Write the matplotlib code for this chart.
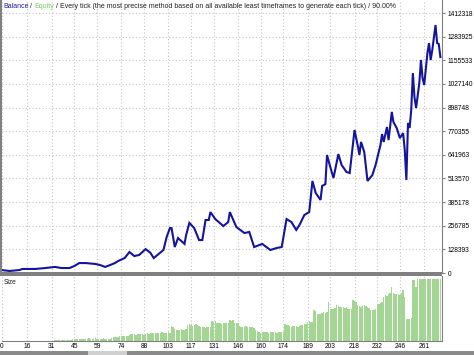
import matplotlib.pyplot as plt
from matplotlib.patches import Rectangle

# balance curve (trade number -> balance in thousands)
bal_trade = [0, 5, 11, 13, 21, 27, 33, 37, 42, 45, 48, 52, 58, 61, 64, 67, 70, 72, 76, 79,
             82, 85, 89, 92, 94, 97, 100, 102, 104, 105, 107, 109, 113, 114, 116, 119, 122, 124, 126, 128,
             129, 132, 137, 140, 141, 145, 150, 153, 156, 161, 166, 170, 173, 174, 176, 179, 182, 184, 187, 190,
             192, 194, 197, 198, 200, 201, 203, 205, 208, 210, 213, 215, 218, 220, 221, 222, 224, 226, 229, 231,
             234, 235, 236, 238, 239, 241, 242, 244, 246, 248, 249, 250, 251, 252, 253, 254, 255, 256, 258, 259,
             260, 261, 263, 264, 265, 266, 268, 269, 270, 271]
bal_k = [16, 11, 16, 22, 22, 27, 33, 27, 27, 38, 54, 54, 49, 43, 33, 43, 54, 65, 81, 114,
         92, 98, 130, 109, 81, 103, 125, 196, 244, 244, 141, 190, 158, 206, 272, 244, 179, 179, 288, 288,
         331, 293, 255, 277, 331, 250, 217, 223, 141, 158, 125, 136, 141, 190, 293, 277, 234, 261, 315, 331,
         500, 435, 397, 473, 483, 641, 576, 516, 646, 587, 549, 543, 777, 690, 641, 712, 657, 500, 532, 587,
         695, 755, 712, 793, 722, 875, 820, 788, 733, 760, 668, 505, 815, 788, 885, 1086, 956, 896, 1032, 1157,
         1059, 1021, 1195, 1249, 1157, 1211, 1347, 1249, 1244, 1173]

# lot size per trade (0..271)
sizes = [0.05, 0.05, 0.05, 0.05, 0.05, 0.05, 0.05, 0.05, 0.05, 0.05,
         0.05, 0.05, 0.05, 0.05, 0.05, 0.05, 0.05, 0.05, 0.05, 0.05,
         0.05, 0.05, 0.05, 0.05, 0.05, 0.05, 0.05, 0.05, 0.05, 0.05,
         0.05, 0.05, 0.05,
         0.1, 0.1, 0.1, 0.1, 0.1, 0.1, 0.1, 0.1, 0.1, 0.1, 0.1,
         0.2, 0.2, 0.2, 0.2, 0.2, 0.2, 0.2, 0.2, 0.2,
         0.25, 0.3, 0.25, 0.2, 0.25, 0.3, 0.25, 0.25, 0.2, 0.25, 0.3, 0.25, 0.25, 0.2, 0.25, 0.3,
         0.4, 0.4, 0.45, 0.4,
         0.5, 0.55, 0.5, 0.5, 0.55, 0.5, 0.6,
         0.7, 0.75, 0.7, 0.65, 0.7, 0.7, 0.75, 0.7, 0.65, 0.7,
         0.8, 0.75, 0.8, 0.85, 0.8, 0.8,
         0.85, 0.8, 0.85, 0.9, 0.85, 0.8, 0.85, 0.9, 0.85,
         1.5, 1.4,
         1.2, 1.15, 1.1, 1.15, 1.2, 1.15, 1.1, 1.2,
         1.6, 1.7, 1.6, 1.5, 1.6, 1.7, 1.6, 1.55,
         1.4, 1.45, 1.4, 1.35, 1.4, 1.45, 1.4,
         2.0, 1.95, 2.0,
         1.8, 1.85, 1.8, 1.75, 1.8, 1.85, 1.8, 1.8,
         2.1, 2.05, 2.1,
         1.8, 1.85, 1.8,
         1.5, 1.45, 1.4, 1.45, 1.5, 1.4, 1.45, 1.4, 1.45, 1.35,
         1.1, 1.05,
         0.9, 0.85, 0.9, 0.95, 0.9, 0.9, 0.85, 0.9, 0.9, 0.95, 0.9, 0.85, 0.9, 0.9, 0.95, 0.9,
         1.7, 1.65, 1.6,
         1.5, 1.45, 1.5, 1.55, 1.5, 1.45, 1.5, 1.6, 1.65, 1.7, 1.75,
         1.9, 2.0, 1.9, 1.95,
         3.1, 3.0,
         2.7, 2.75, 2.7, 2.8,
         2.9, 2.85, 2.9,
         3.9,
         3.2, 3.25, 3.2, 3.3,
         3.6, 3.55,
         3.4, 3.45, 3.4, 3.35, 3.4,
         3.2, 3.25, 3.2,
         4.1, 4.0, 3.9,
         3.6, 3.5, 3.45, 3.5, 3.6, 3.55, 3.4, 3.3,
         3.1, 3.15, 3.1, 3.2,
         3.7, 3.75, 3.8, 3.9,
         4.4, 4.6, 4.5, 4.7,
         4.8, 5.4, 4.8, 4.7,
         4.7, 4.75, 4.6, 4.8,
         5.1,
         4.4,
         2.2, 2.25, 2.2, 2.3,
         6.1, 6.1, 5.4,
         6.2, 6.2, 6.2, 6.2, 6.2, 6.2, 6.2, 6.2, 6.2, 6.2, 6.2, 6.2, 6.2, 6.2, 6.2]

x_ticks = [0, 16, 31, 45, 59, 74, 88, 103, 117, 131, 146, 160, 174, 189, 203, 218, 232, 246, 261]
y_ticks = [0, 128393, 256785, 385178, 513570, 641963, 770355, 898748, 1027140, 1155533, 1283925, 1412318]

plt.rcParams['font.family'] = ['Liberation Sans', 'DejaVu Sans']

W, H = 474, 355
fig = plt.figure(figsize=(W / 100, H / 100), dpi=100)


def box(x0, y0, x1, y1):
    # pixel box (top-left origin) -> figure fraction
    return [x0 / W, 1 - y1 / H, (x1 - x0) / W, (y1 - y0) / H]


grid_kw = dict(color="#c4c4c4", linestyle=(0, (1, 2)), linewidth=0.8)
fs = 4.8

ax = fig.add_axes(box(1.5, 0, 442, 273))
ax.plot(bal_trade, [v * 1000 for v in bal_k], color="#14149c", lw=1.5, solid_joinstyle="miter")
ax.set_xlim(0, 272)
ax.set_ylim(0, 1483000)
ax.set_xticks(x_ticks)
ax.set_yticks(y_ticks)
ax.set_yticklabels([str(v) for v in y_ticks])
ax.yaxis.tick_right()
ax.tick_params(axis="y", length=2, pad=2, labelsize=fs, color="#808080")
ax.tick_params(axis="x", length=0, labelbottom=False)
ax.grid(True, **grid_kw)
for s in ["top", "left", "bottom"]:
    ax.spines[s].set_visible(False)
ax.spines["right"].set_color("#808080")

ax2 = fig.add_axes(box(1.5, 276, 442, 341))
ax2.bar(range(len(sizes)), sizes, width=0.85, color="#a3d693", lw=0)
ax2.set_xlim(0, 272)
ax2.set_ylim(0, 6.5)
ax2.set_xticks(x_ticks)
ax2.set_xticklabels([str(v) for v in x_ticks])
ax2.set_yticks([])
ax2.tick_params(axis="x", length=0, pad=1.5, labelsize=fs)
ax2.grid(True, axis="x", **grid_kw)
for s in ["top", "left"]:
    ax2.spines[s].set_visible(False)
ax2.spines["right"].set_color("#808080")
ax2.spines["bottom"].set_color("#808080")

# separator, left border and bottom strip
fig.add_artist(Rectangle((0, 1 - 275.5 / H), 442 / W, 3.5 / H, transform=fig.transFigure,
                         color="#808080", lw=0))
fig.add_artist(Rectangle((0, 1 - 273 / H), 1.5 / W, 273 / H, transform=fig.transFigure,
                         color="#808080", lw=0))
fig.add_artist(Rectangle((0, 0), 1, 4 / H, transform=fig.transFigure, color="#8a8a8a", lw=0))
fig.add_artist(Rectangle((88 / W, 0), 39 / W, 4 / H, transform=fig.transFigure, color="#d0d0d0", lw=0))

# header text
hs = 5.0
t1 = fig.text(3 / W, 1 - 6 / H, "Balance", color="#1c1c9c", fontsize=hs, va="center")
t2 = ax.annotate(" / ", xy=(1, 0), xycoords=t1, va="bottom", fontsize=hs, color="#202020")
t3 = ax.annotate("Equity", xy=(1, 0), xycoords=t2, va="bottom", fontsize=hs, color="#7cc66a")
ax.annotate(" / Every tick (the most precise method based on all available least timeframes to generate each tick) / 90.00%",
            xy=(1, 0), xycoords=t3, va="bottom", fontsize=hs, color="#202020")

fig.text(4 / W, 1 - 282 / H, "Size", fontsize=fs, va="center", color="#202020")

fig.savefig("out.png", dpi=100)
